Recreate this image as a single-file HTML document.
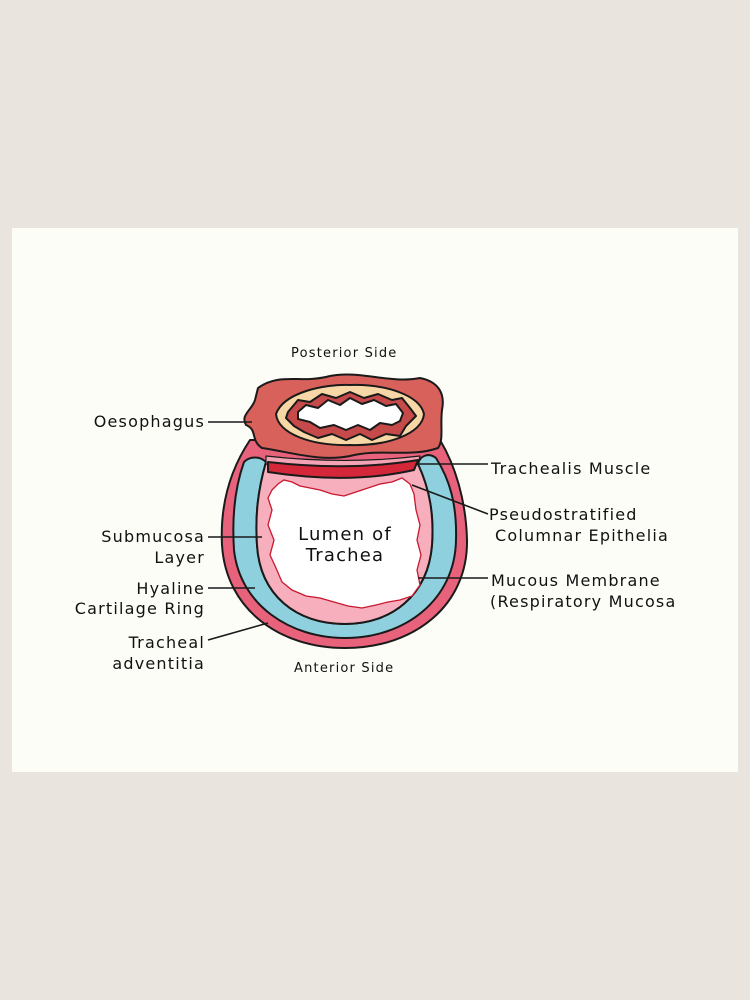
<!DOCTYPE html>
<html><head><style>
html,body{margin:0;padding:0;width:750px;height:1000px;overflow:hidden;background:#e9e5de;}
svg{display:block}
text{font-family:"DejaVu Sans","Liberation Sans",sans-serif;fill:#111;letter-spacing:1.2px}
</style></head><body>
<svg width="750" height="1000" viewBox="0 0 750 1000">
<rect x="0" y="0" width="750" height="1000" fill="#e9e5de"/>
<rect x="12" y="228" width="726" height="544" fill="#fdfdf8"/>
<g stroke="#1a1a1a" stroke-width="2" stroke-linejoin="round">
<path d="M250,440 C230,470 220,505 222,545 C226,610 280,648 345,648 C415,648 468,605 467,540 C466,500 455,465 440,440 Z" fill="#e8627c"/>
<path d="M244,462 C234,490 232,520 234,550 C240,605 290,638 345,638 C405,638 455,600 456,540 C457,505 450,480 436,458 C428,452 420,456 418,464 C430,490 434,515 432,545 C428,595 392,624 345,624 C296,624 260,595 257,545 C255,515 258,490 266,462 C260,456 250,456 244,462 Z" fill="#8fd0de"/>
<path d="M266,462 C258,490 255,515 257,545 C260,595 296,624 345,624 C392,624 428,595 432,545 C434,515 430,490 418,464 C370,468 320,468 266,462 Z" fill="#f7aebd"/>
<path d="M266,456 C320,462 370,462 420,456 L418,464 C370,470 320,470 266,464 Z" fill="#f3a3b3" stroke-width="1.2"/>
<path d="M268,462 C320,468 370,468 418,460 L414,470 C370,480 320,480 268,472 Z" fill="#d4283a"/>
<path d="M258,388 C280,372 300,384 330,376 C360,370 390,384 420,378 C440,382 445,395 442,410 C440,425 444,440 438,448 C410,458 380,448 350,456 C320,462 290,452 262,448 C250,440 258,430 246,425 C240,415 252,410 255,400 Z" fill="#d9615c"/>
<path d="M276,414 C284,392 325,384 350,385 C388,384 420,396 424,414 C422,434 388,446 350,445 C312,446 278,434 276,414 Z" fill="#f8d7a6"/>
<path d="M288,412 L298,400 L310,402 L322,394 L336,398 L350,392 L364,398 L378,394 L392,400 L402,398 L410,408 L416,416 L406,426 L400,436 L386,434 L372,440 L360,434 L346,440 L332,434 L318,438 L304,432 L294,426 L286,418 Z" fill="#c74a4a"/>
<path d="M298,412 L306,405 L318,408 L328,400 L340,405 L350,398 L362,404 L374,400 L386,406 L396,404 L403,413 L400,421 L392,425 L380,423 L370,430 L358,425 L346,430 L334,425 L320,428 L310,422 L298,419 Z" fill="#fff"/>
</g>
<path d="M272,490 L278,484 L284,480 L292,482 L300,486 L310,488 L320,490 L332,494 L344,496 L356,492 L368,488 L380,484 L392,482 L402,478 L410,484 L414,494 L416,510 L420,525 L417,540 L421,555 L417,570 L420,585 L412,596 L400,600 L388,602 L376,605 L362,608 L348,606 L334,602 L320,598 L306,596 L292,590 L282,582 L276,568 L270,555 L274,540 L268,525 L272,510 L268,498 Z" fill="#fff" stroke="#c8182e" stroke-width="1.3"/>
<g stroke="#1a1a1a" stroke-width="1.6" fill="none">
<line x1="208" y1="422" x2="252" y2="422"/>
<line x1="208" y1="537" x2="262" y2="537"/>
<line x1="208" y1="588" x2="255" y2="588"/>
<line x1="208" y1="640" x2="268" y2="623"/>
<line x1="418" y1="464" x2="488" y2="464"/>
<line x1="412" y1="485" x2="488" y2="514"/>
<line x1="418" y1="578" x2="488" y2="578"/>
</g>
<text x="291" y="357" font-size="13">Posterior Side</text>
<text x="294" y="672" font-size="13">Anterior Side</text>
<text x="205" y="427" font-size="16" text-anchor="end">Oesophagus</text>
<text x="205" y="542" font-size="16" text-anchor="end">Submucosa</text>
<text x="205" y="563" font-size="16" text-anchor="end">Layer</text>
<text x="205" y="594" font-size="16" text-anchor="end">Hyaline</text>
<text x="205" y="614" font-size="16" text-anchor="end">Cartilage Ring</text>
<text x="205" y="648" font-size="16" text-anchor="end">Tracheal</text>
<text x="205" y="669" font-size="16" text-anchor="end">adventitia</text>
<text x="491" y="474" font-size="16">Trachealis Muscle</text>
<text x="489" y="520" font-size="16">Pseudostratified</text>
<text x="495" y="541" font-size="16">Columnar Epithelia</text>
<text x="491" y="586" font-size="16">Mucous Membrane</text>
<text x="490" y="607" font-size="16">(Respiratory Mucosa</text>
<text x="345" y="540" font-size="18" text-anchor="middle">Lumen of</text>
<text x="345" y="561" font-size="18" text-anchor="middle">Trachea</text>
</svg>
</body></html>
